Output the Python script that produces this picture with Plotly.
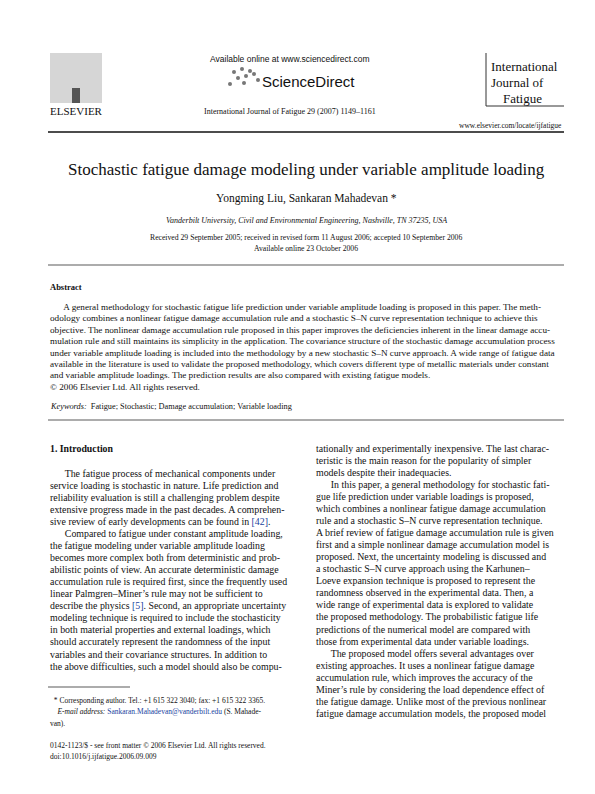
import plotly.graph_objects as go

W, H = 595, 794
SERIF = "Liberation Serif"

header_lines = ["Available online at www.sciencedirect.com",
                "International Journal of Fatigue 29 (2007) 1149–1161"]
title = "Stochastic fatigue damage modeling under variable amplitude loading"
authors = "Yongming Liu, Sankaran Mahadevan *"
affiliation = "Vanderbilt University, Civil and Environmental Engineering, Nashville, TN 37235, USA"
dates = ["Received 29 September 2005; received in revised form 11 August 2006; accepted 10 September 2006",
         "Available online 23 October 2006"]
abstract_lines = [
    "      A general methodology for stochastic fatigue life prediction under variable amplitude loading is proposed in this paper. The meth-",
    "odology combines a nonlinear fatigue damage accumulation rule and a stochastic S–N curve representation technique to achieve this",
    "objective. The nonlinear damage accumulation rule proposed in this paper improves the deficiencies inherent in the linear damage accu-",
    "mulation rule and still maintains its simplicity in the application. The covariance structure of the stochastic damage accumulation process",
    "under variable amplitude loading is included into the methodology by a new stochastic S–N curve approach. A wide range of fatigue data",
    "available in the literature is used to validate the proposed methodology, which covers different type of metallic materials under constant",
    "and variable amplitude loadings. The prediction results are also compared with existing fatigue models.",
    "© 2006 Elsevier Ltd. All rights reserved.",
]
keywords = "<i>Keywords:</i>  Fatigue; Stochastic; Damage accumulation; Variable loading"
col1_lines = [
    "      The fatigue process of mechanical components under",
    "service loading is stochastic in nature. Life prediction and",
    "reliability evaluation is still a challenging problem despite",
    "extensive progress made in the past decades. A comprehen-",
    "sive review of early developments can be found in <span style='color:#1a3fa0'>[42]</span>.",
    "      Compared to fatigue under constant amplitude loading,",
    "the fatigue modeling under variable amplitude loading",
    "becomes more complex both from deterministic and prob-",
    "abilistic points of view. An accurate deterministic damage",
    "accumulation rule is required first, since the frequently used",
    "linear Palmgren–Miner’s rule may not be sufficient to",
    "describe the physics <span style='color:#1a3fa0'>[5]</span>. Second, an appropriate uncertainty",
    "modeling technique is required to include the stochasticity",
    "in both material properties and external loadings, which",
    "should accurately represent the randomness of the input",
    "variables and their covariance structures. In addition to",
    "the above difficulties, such a model should also be compu-",
]
col2_lines = [
    "tationally and experimentally inexpensive. The last charac-",
    "teristic is the main reason for the popularity of simpler",
    "models despite their inadequacies.",
    "      In this paper, a general methodology for stochastic fati-",
    "gue life prediction under variable loadings is proposed,",
    "which combines a nonlinear fatigue damage accumulation",
    "rule and a stochastic S–N curve representation technique.",
    "A brief review of fatigue damage accumulation rule is given",
    "first and a simple nonlinear damage accumulation model is",
    "proposed. Next, the uncertainty modeling is discussed and",
    "a stochastic S–N curve approach using the Karhunen–",
    "Loeve expansion technique is proposed to represent the",
    "randomness observed in the experimental data. Then, a",
    "wide range of experimental data is explored to validate",
    "the proposed methodology. The probabilistic fatigue life",
    "predictions of the numerical model are compared with",
    "those from experimental data under variable loadings.",
    "      The proposed model offers several advantages over",
    "existing approaches. It uses a nonlinear fatigue damage",
    "accumulation rule, which improves the accuracy of the",
    "Miner’s rule by considering the load dependence effect of",
    "the fatigue damage. Unlike most of the previous nonlinear",
    "fatigue damage accumulation models, the proposed model",
]
footnote_lines = [
    "  * Corresponding author. Tel.: +1 615 322 3040; fax: +1 615 322 3365.",
    "    <i>E-mail address:</i> <span style='color:#1a3fa0'>Sankaran.Mahadevan@vanderbilt.edu</span> (S. Mahade-",
    "van).",
]
bottom_lines = ["0142-1123/$ - see front matter © 2006 Elsevier Ltd. All rights reserved.",
                "doi:10.1016/j.ijfatigue.2006.09.009"]

fig = go.Figure()
ann = []
def T(x, y, t, size=9.5, anchor="left", color="#111", family=SERIF):
    ann.append(dict(x=x, y=y, text=t, xref="x", yref="y", showarrow=False,
                    xanchor=anchor, yanchor="middle", font=dict(size=size, color=color, family=family)))

T(282, 51, header_lines[0], 8.5, "center", family="Liberation Sans")
T(300, 73, "ScienceDirect", 15, "center", family="Liberation Sans")
T(282, 103, header_lines[1], 8, "center")
T(68, 103, "ELSEVIER", 11, "center")
T(556, 117, "www.elsevier.com/locate/ijfatigue", 7.5, "right")
T(481, 58, "International", 13, "left", family="Liberation Sans Narrow")
T(481, 74, "Journal of", 13, "left", family="Liberation Sans Narrow")
T(493, 90, "Fatigue", 13, "left", family="Liberation Sans Narrow")
dx = [226, 234, 242, 230, 238, 246, 222, 236, 250]
dy = [64, 61, 63, 70, 68, 66, 76, 75, 72]
fig.add_trace(go.Scatter(x=dx, y=dy, mode="markers", marker=dict(size=4, color="#777"),
                         hoverinfo="skip", showlegend=False))
shapes = []
shapes.append(dict(type="rect", x0=42, x1=94, y0=45, y1=95, xref="x", yref="y",
                   fillcolor="#bbb", line=dict(width=0), opacity=0.6))
shapes.append(dict(type="rect", x0=64, x1=72, y0=80, y1=95, xref="x", yref="y",
                   fillcolor="#555", line=dict(width=0)))
shapes.append(dict(type="line", x0=478, x1=478, y0=45, y1=98, line=dict(color="#333", width=1)))
shapes.append(dict(type="line", x0=478, x1=556, y0=98, y1=98, line=dict(color="#333", width=1)))
shapes.append(dict(type="line", x0=40, x1=556, y0=124, y1=124, line=dict(color="#111", width=1.5)))
shapes.append(dict(type="line", x0=40, x1=556, y0=257, y1=257, line=dict(color="#111", width=0.7)))
shapes.append(dict(type="line", x0=40, x1=556, y0=412, y1=412, line=dict(color="#111", width=0.7)))
shapes.append(dict(type="line", x0=40, x1=122, y0=679, y1=679, line=dict(color="#111", width=0.7)))

T(298, 161, title, 17, "center")
T(298, 190, authors, 11.5, "center")
T(298, 212, "<i>" + affiliation + "</i>", 8, "center")
T(298, 229, dates[0], 7.7, "center")
T(298, 240, dates[1], 7.7, "center")
T(40, 279, "<b>Abstract</b>", 8.5)
for i, l in enumerate(abstract_lines):
    T(40, 299 + i * 11.4, l, 9.2)
T(40, 398, keywords, 8.3)
T(40, 440, "<b>1. Introduction</b>", 9.8)
for i, l in enumerate(col1_lines):
    T(40, 465 + i * 12.07, l, 9.9)
for i, l in enumerate(col2_lines):
    T(306, 440 + i * 12.07, l, 9.9)
for i, l in enumerate(footnote_lines):
    T(40, 692 + i * 11.5, l, 7.5)
for i, l in enumerate(bottom_lines):
    T(40, 737 + i * 11, l, 7.5)

fig.update_layout(width=W, height=H, margin=dict(l=0, r=0, t=0, b=0),
                  paper_bgcolor="white", plot_bgcolor="white",
                  xaxis=dict(range=[0, W], visible=False, fixedrange=True),
                  yaxis=dict(range=[H, 0], visible=False, fixedrange=True),
                  annotations=ann, shapes=shapes)
fig.write_html("out.html")
